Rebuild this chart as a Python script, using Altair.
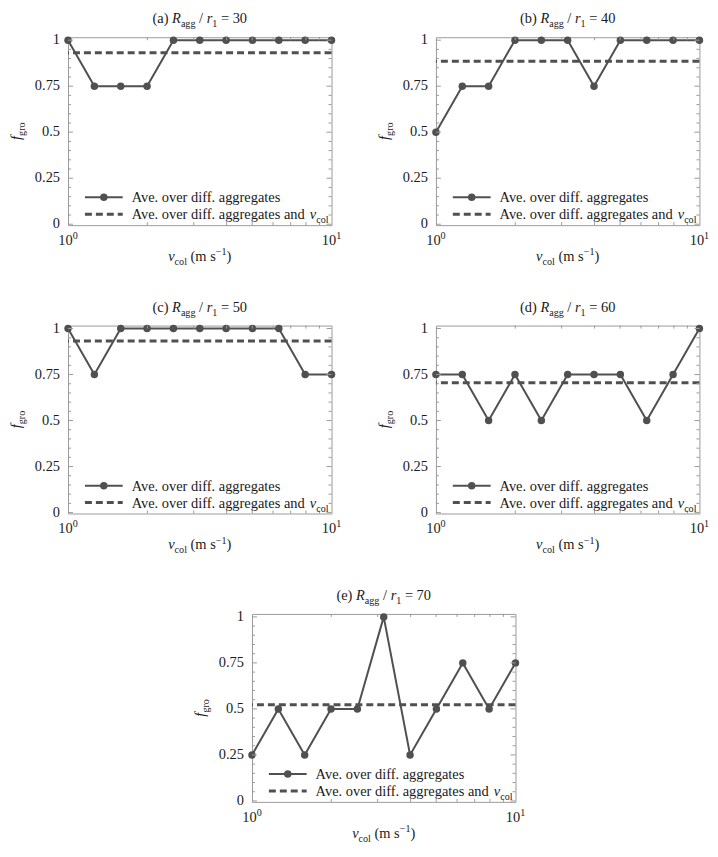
import altair as alt
import pandas as pd

# ---------------- data ----------------
v_col = [1.0, 1.259, 1.585, 1.995, 2.512, 3.162, 3.981, 5.012, 6.310, 7.943, 10.0]
f_gro_a = [1.0, 0.75, 0.75, 0.75, 1.0, 1.0, 1.0, 1.0, 1.0, 1.0, 1.0]
f_gro_b = [0.5, 0.75, 0.75, 1.0, 1.0, 1.0, 0.75, 1.0, 1.0, 1.0, 1.0]
f_gro_c = [1.0, 0.75, 1.0, 1.0, 1.0, 1.0, 1.0, 1.0, 1.0, 0.75, 0.75]
f_gro_d = [0.75, 0.75, 0.5, 0.75, 0.5, 0.75, 0.75, 0.75, 0.5, 0.75, 1.0]
f_gro_e = [0.25, 0.5, 0.25, 0.5, 0.5, 1.0, 0.25, 0.5, 0.75, 0.5, 0.75]
f_gro_mean = [0.932, 0.886, 0.932, 0.705, 0.523]
panel_tags = ["(a)", "(b)", "(c)", "(d)", "(e)"]
r_ratio = [30, 40, 50, 60, 70]

x_minor_ticks = [2, 3, 4, 5, 6, 7, 8, 9]
x_label_vals = [1, 10]
x_label_base = ["10", "10"]
x_label_exp = ["0", "1"]
y_major_ticks = [0, 0.25, 0.5, 0.75, 1]
y_major_labels = ["0", "0.25", "0.5", "0.75", "1"]
y_minor_ticks = [0.05, 0.1, 0.15, 0.2, 0.3, 0.35, 0.4, 0.45,
                 0.55, 0.6, 0.65, 0.7, 0.8, 0.85, 0.9, 0.95]
legend_labels = ["Ave. over diff. aggregates", "Ave. over diff. aggregates and "]

# ---------------- style ----------------
FONT = "Liberation Serif"
TXT = "#1a1a1a"
C = "#505050"
FRAME = "#9a9a9a"
W = 265
H = 189
FS = 14.5

NORMAL_W = {' ': 0.25, '(': 0.333, ')': 0.333, 'a': 0.444, 'b': 0.5, 'c': 0.444,
            'd': 0.5, 'e': 0.444, 'f': 0.333, 'g': 0.5, 'i': 0.278, 'l': 0.278,
            'm': 0.778, 'n': 0.5, 'o': 0.5, 'r': 0.333, 's': 0.389, 't': 0.278,
            'v': 0.5, 'A': 0.722, 'R': 0.667, '.': 0.25, '/': 0.278, '=': 0.564,
            '−': 0.564, '-': 0.333}
for d in "0123456789":
    NORMAL_W[d] = 0.5
ITALIC_W = {'R': 0.611, 'r': 0.389, 'v': 0.444, 'f': 0.278}


def seg_width(s, style):
    table = ITALIC_W if style == "i" else NORMAL_W
    return sum(table.get(ch, NORMAL_W.get(ch, 0.5)) for ch in s)


one = pd.DataFrame({"k": [0]})


def rich(segs, x, y, size=FS, anchor="center", angle=0):
    items = []
    off = 0.0
    for text, style in segs:
        fs = size * 0.7 if style in ("sub", "sup") else size
        lead = len(text) - len(text.lstrip(" "))
        trail = len(text) - len(text.rstrip(" "))
        core = text.strip(" ")
        off += lead * 0.25 * fs
        items.append((core, style, fs, off))
        off += seg_width(core, style) * fs + trail * 0.25 * fs
    shift = -off / 2 if anchor == "center" else 0
    layers = []
    for core, style, fs, o in items:
        dy = 0.28 * size if style == "sub" else (-0.38 * size if style == "sup" else 0)
        kw = dict(text=core, font=FONT, fontSize=fs, align="left",
                  baseline="alphabetic", dx=o + shift, dy=dy, color=TXT)
        if style == "i":
            kw["fontStyle"] = "italic"
        if angle:
            kw["angle"] = angle
        layers.append(alt.Chart(one).mark_text(**kw).encode(
            x=alt.value(x), y=alt.value(y)))
    return layers


def panel(i, vals):
    xsc = alt.Scale(type="log", domain=[1, 10])
    ysc = alt.Scale(domain=[-0.005, 1.016], nice=False, zero=False)
    df = pd.DataFrame({"v_col": v_col, "f_gro": vals})
    bx = alt.X("v_col:Q", scale=xsc, axis=None)
    by = alt.Y("f_gro:Q", scale=ysc, axis=None)

    mean = alt.Chart(pd.DataFrame({"mean": [f_gro_mean[i]]})).mark_rule(
        color=C, strokeWidth=3, strokeDash=[7, 4]).encode(
        y=alt.Y("mean:Q", scale=ysc, axis=None))
    line = alt.Chart(df).mark_line(color=C, strokeWidth=2).encode(x=bx, y=by)
    pts = alt.Chart(df).mark_circle(color=C, size=56, opacity=1).encode(x=bx, y=by)

    xt = pd.DataFrame({"t": x_minor_ticks})
    txs = alt.X("t:Q", scale=xsc, axis=None)
    xtb = alt.Chart(xt).mark_rule(color=FRAME).encode(x=txs, y=alt.value(H), y2=alt.value(H - 3))
    xtt = alt.Chart(xt).mark_rule(color=FRAME).encode(x=txs, y=alt.value(0), y2=alt.value(3))
    yM = pd.DataFrame({"t": y_major_ticks, "lab": y_major_labels})
    ym = pd.DataFrame({"t": y_minor_ticks})
    tys = alt.Y("t:Q", scale=ysc, axis=None)
    yMl = alt.Chart(yM).mark_rule(color=FRAME).encode(y=tys, x=alt.value(0), x2=alt.value(5))
    yMr = alt.Chart(yM).mark_rule(color=FRAME).encode(y=tys, x=alt.value(W), x2=alt.value(W - 5))
    yml = alt.Chart(ym).mark_rule(color=FRAME).encode(y=tys, x=alt.value(0), x2=alt.value(3))
    ymr = alt.Chart(ym).mark_rule(color=FRAME).encode(y=tys, x=alt.value(W), x2=alt.value(W - 3))
    ylab = alt.Chart(yM).mark_text(font=FONT, fontSize=FS, align="right",
                                   baseline="middle", color=TXT).encode(
        y=tys, x=alt.value(-8), text="lab:N")

    xl = pd.DataFrame({"t": x_label_vals, "base": x_label_base, "exp": x_label_exp})
    lab_base = alt.Chart(xl).mark_text(font=FONT, fontSize=FS, align="left",
                                       baseline="alphabetic", dx=-9.8, color=TXT).encode(
        x=txs, y=alt.value(H + 20), text="base:N")
    lab_exp = alt.Chart(xl).mark_text(font=FONT, fontSize=FS * 0.7, align="left",
                                      baseline="alphabetic", dx=4.7, dy=-6, color=TXT).encode(
        x=txs, y=alt.value(H + 20), text="exp:N")

    title = rich([(panel_tags[i] + " ", "n"), ("R", "i"), ("agg", "sub"), (" / ", "n"),
                  ("r", "i"), ("1", "sub"), (" = " + str(r_ratio[i]), "n")], W / 2, -14)
    xtitle = rich([("v", "i"), ("col", "sub"), (" (m s", "n"), ("−1", "sup"), (")", "n")],
                  W / 2, H + 36)
    ytitle = rich([("f", "i"), ("gro", "sub")], -47, H / 2, angle=270)

    ly1 = H - 28
    ly2 = H - 11
    leg_line = alt.Chart(one).mark_rule(color=C, strokeWidth=2).encode(
        x=alt.value(17), x2=alt.value(55), y=alt.value(ly1))
    leg_pt = alt.Chart(one).mark_circle(color=C, size=56, opacity=1).encode(
        x=alt.value(36), y=alt.value(ly1))
    leg_dash = alt.Chart(one).mark_rule(color=C, strokeWidth=3, strokeDash=[7, 4]).encode(
        x=alt.value(17), x2=alt.value(55), y=alt.value(ly2))
    leg_t1 = rich([(legend_labels[0], "n")], 64, ly1 + 5, anchor="left")
    leg_t2 = rich([(legend_labels[1], "n"), ("v", "i"), ("col", "sub")], 64, ly2 + 5, anchor="left")

    layers = [mean, line, pts, xtb, xtt, yMl, yMr, yml, ymr, ylab, lab_base, lab_exp,
              leg_line, leg_pt, leg_dash] + title + xtitle + ytitle + leg_t1 + leg_t2
    return alt.layer(*layers).properties(width=W, height=H)


pa = panel(0, f_gro_a)
pb = panel(1, f_gro_b)
pc = panel(2, f_gro_c)
pd_ = panel(3, f_gro_d)
pe = panel(4, f_gro_e)

row1 = alt.hconcat(pa, pb, spacing=34)
row2 = alt.hconcat(pc, pd_, spacing=34)
chart = alt.vconcat(row1, row2, pe, spacing=31, center=True).properties(
    padding={"left": 0, "top": 0, "right": 0, "bottom": 0}
).configure_view(stroke=FRAME, strokeWidth=1)

chart.save("out.html", embed_options={"renderer": "svg", "actions": False})
